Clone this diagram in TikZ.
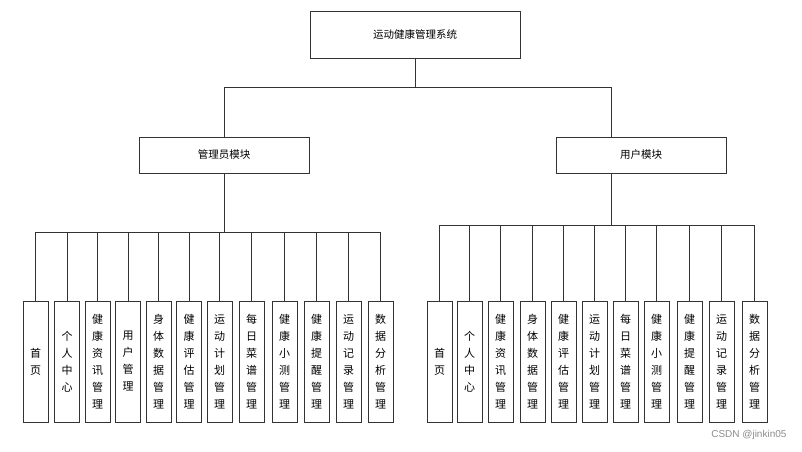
\documentclass[tikz,border=0pt]{standalone}
\usepackage{fontspec}
\newfontfamily\cjk{Noto Sans CJK SC}
\begin{document}
\begin{tikzpicture}[x=1pt,y=-1pt,
  box/.style={draw=black!80,line width=0.8pt,font=\cjk\fontsize{10.5}{12}\selectfont,inner sep=0pt},
  leaf/.style={box,minimum width=25pt,minimum height=121pt,align=center,font=\cjk\fontsize{11}{17}\selectfont},
  ln/.style={draw=black!80,line width=0.8pt}]
\useasboundingbox (0,0) rectangle (802,451);
\node[box,minimum width=210pt,minimum height=47pt] (root) at (415,34.5) {运动健康管理系统};
\node[box,minimum width=170pt,minimum height=36pt] (adm) at (224,155) {管理员模块};
\node[box,minimum width=170pt,minimum height=36pt] (usr) at (641,155) {用户模块};
\coordinate (j) at (415,87);
\draw[ln] (root.south) -- (j);
\draw[ln] (224,87) -| (adm.north);
\draw[ln] (611,87) -- (611,137);
\draw[ln] (224,87) -- (611,87);
\draw[ln] (adm.south) -- (224,232);
\draw[ln] (611,173) -- (611,225);
\foreach \x/\t [count=\i] in {35.5/首\\页, 67/个\\人\\中\\心, 97.5/健\\康\\资\\讯\\管\\理, 128/用\\户\\管\\理, 158.5/身\\体\\数\\据\\管\\理, 189/健\\康\\评\\估\\管\\理, 219.5/运\\动\\计\\划\\管\\理, 251.5/每\\日\\菜\\谱\\管\\理, 284.5/健\\康\\小\\测\\管\\理, 316.5/健\\康\\提\\醒\\管\\理, 348.5/运\\动\\记\\录\\管\\理, 380.5/数\\据\\分\\析\\管\\理}{
  \node[leaf] (a\i) at (\x,361.5) {\t};
  \draw[ln] (\x,232) -- (a\i.north);
}
\draw[ln] (35.5,232) -- (380.5,232);
\foreach \x/\t [count=\i] in {439.5/首\\页, 469.5/个\\人\\中\\心, 500.5/健\\康\\资\\讯\\管\\理, 532.5/身\\体\\数\\据\\管\\理, 563.5/健\\康\\评\\估\\管\\理, 594.5/运\\动\\计\\划\\管\\理, 625.5/每\\日\\菜\\谱\\管\\理, 656.5/健\\康\\小\\测\\管\\理, 689.5/健\\康\\提\\醒\\管\\理, 721.5/运\\动\\记\\录\\管\\理, 754.5/数\\据\\分\\析\\管\\理}{
  \node[leaf] (b\i) at (\x,361.5) {\t};
  \draw[ln] (\x,225) -- (b\i.north);
}
\draw[ln] (439.5,225) -- (754.5,225);
\node[font=\fontspec{Liberation Sans}\fontsize{10}{12}\selectfont,text=black!45,anchor=east] (wm) at (790,435) {CSDN @jinkin05};
\end{tikzpicture}
\end{document}
